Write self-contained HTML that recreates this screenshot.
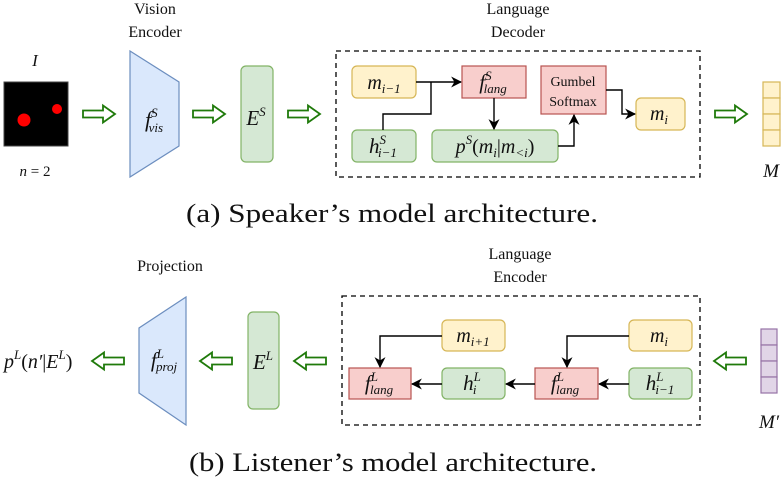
<!DOCTYPE html>
<html><head><meta charset="utf-8"><style>
html,body{margin:0;padding:0;background:#fff;width:784px;height:478px;overflow:hidden}
svg{display:block}
.t{font-family:"Liberation Serif",serif;fill:#111}
.m{font-family:"Liberation Serif",serif;font-style:italic;fill:#111}
</style></head><body>
<svg width="784" height="478" viewBox="0 0 784 478" xmlns="http://www.w3.org/2000/svg">
<defs>
<marker id="ah" viewBox="0 0 10 10" refX="9" refY="5" markerWidth="11" markerHeight="11" orient="auto" markerUnits="userSpaceOnUse">
<path d="M0,0 L10,5 L0,10 L3,5 z" fill="#000"/></marker>
<g id="har"><path d="M0,-3.5 L20,-3.5 L20,-8.5 L32,0 L20,8.5 L20,3.5 L0,3.5 z" fill="#fff" stroke="#1f7a0a" stroke-width="1.8"/></g>
</defs>

<!-- TOP -->
<text class="t" x="155" y="14" font-size="16" text-anchor="middle">Vision</text>
<text class="t" x="155" y="37" font-size="16" text-anchor="middle">Encoder</text>
<text class="m" x="35" y="66" font-size="17" text-anchor="middle">I</text>
<rect x="4" y="82" width="64" height="64" fill="#000" stroke="#444"/>
<circle cx="24" cy="120" r="6.5" fill="#f00"/>
<circle cx="57" cy="109" r="5" fill="#f00"/>
<text class="m" x="35" y="176" font-size="15" text-anchor="middle">n <tspan font-style="normal">= 2</tspan></text>

<use href="#har" x="83" y="114"/>
<path d="M130,51 L179,82 L179,146 L130,177 z" fill="#dae8fc" stroke="#6c8ebf" stroke-width="1.2"/>
<text class="m" x="154" y="127" font-size="22" text-anchor="middle">f<tspan font-size="13" dy="-10">S</tspan><tspan font-size="13" dx="-9" dy="15">vis</tspan></text>
<use href="#har" x="193" y="114"/>
<rect x="241" y="66" width="32" height="96" rx="5" fill="#d5e8d4" stroke="#82b366" stroke-width="1.2"/>
<text class="m" x="256" y="125" font-size="21" text-anchor="middle">E<tspan font-size="13" dy="-9">S</tspan></text>
<use href="#har" x="288" y="114"/>

<text class="t" x="518" y="14" font-size="16" text-anchor="middle">Language</text>
<text class="t" x="518" y="37" font-size="16" text-anchor="middle">Decoder</text>
<rect x="336" y="51" width="364" height="126" fill="none" stroke="#000" stroke-width="1.3" stroke-dasharray="5,4"/>

<rect x="352" y="66" width="64" height="32" rx="5" fill="#fff2cc" stroke="#d6b656" stroke-width="1.2"/>
<text class="m" x="384" y="89" font-size="20" text-anchor="middle">m<tspan font-size="13" dy="4">i−1</tspan></text>
<rect x="462" y="66" width="64" height="32" fill="#f8cecc" stroke="#b85450" stroke-width="1.2"/>
<text class="m" x="493" y="89" font-size="21" text-anchor="middle">f<tspan font-size="13" dy="-9">S</tspan><tspan font-size="13" dx="-8" dy="13">lang</tspan></text>
<rect x="541" y="66" width="65" height="48" fill="#f8cecc" stroke="#b85450" stroke-width="1.2"/>
<text class="t" x="573" y="86" font-size="14" text-anchor="middle">Gumbel</text>
<text class="t" x="573" y="106" font-size="14" text-anchor="middle">Softmax</text>
<rect x="636" y="98" width="49" height="32" rx="5" fill="#fff2cc" stroke="#d6b656" stroke-width="1.2"/>
<text class="m" x="659" y="120" font-size="20" text-anchor="middle">m<tspan font-size="13" dy="4">i</tspan></text>
<rect x="352" y="130" width="64" height="32" rx="5" fill="#d5e8d4" stroke="#82b366" stroke-width="1.2"/>
<text class="m" x="383" y="153" font-size="21" text-anchor="middle">h<tspan font-size="13" dy="-9">S</tspan><tspan font-size="13" dx="-8" dy="13">i−1</tspan></text>
<rect x="432" y="130" width="126" height="32" rx="5" fill="#d5e8d4" stroke="#82b366" stroke-width="1.2"/>
<text class="m" x="495" y="153" font-size="20" text-anchor="middle">p<tspan font-size="13" dy="-9">S</tspan><tspan font-style="normal" dy="9">(</tspan>m<tspan font-size="13" dy="4">i</tspan><tspan font-style="normal" dy="-4">|</tspan>m<tspan font-size="13" dy="4">&lt;i</tspan><tspan font-style="normal" dy="-4">)</tspan></text>

<g fill="none" stroke="#000" stroke-width="1.4">
<path d="M416,82 L461,82" marker-end="url(#ah)"/>
<path d="M383,130 L383,114 L431,114 L431,82"/>
<path d="M494,98 L494,129" marker-end="url(#ah)"/>
<path d="M558,146 L574,146 L574,115" marker-end="url(#ah)"/>
<path d="M606,90 L622,90 L622,114 L635,114" marker-end="url(#ah)"/>
</g>

<use href="#har" x="715" y="114"/>
<g fill="#fff2cc" stroke="#d6b656" stroke-width="1.2">
<rect x="763" y="82" width="17" height="16"/><rect x="763" y="98" width="17" height="16"/>
<rect x="763" y="114" width="17" height="16"/><rect x="763" y="130" width="17" height="16"/>
</g>
<text class="m" x="771" y="177" font-size="19" text-anchor="middle">M</text>

<text class="t" x="392" y="222" font-size="26" text-anchor="middle" textLength="412" lengthAdjust="spacingAndGlyphs">(a) Speaker’s model architecture.</text>

<!-- BOTTOM -->
<text class="t" x="170" y="271" font-size="16" text-anchor="middle">Projection</text>
<text class="t" x="520" y="259" font-size="16" text-anchor="middle">Language</text>
<text class="t" x="520" y="282" font-size="16" text-anchor="middle">Encoder</text>

<text class="m" x="4" y="368" font-size="20">p<tspan font-size="13" dy="-9">L</tspan><tspan font-style="normal" dy="9">(</tspan>n′<tspan font-style="normal">|</tspan>E<tspan font-size="13" dy="-9">L</tspan><tspan font-style="normal" dy="9">)</tspan></text>
<use href="#har" transform="translate(124,361) scale(-1,1)"/>
<path d="M186,297 L186,425 L139,393 L139,328 z" fill="#dae8fc" stroke="#6c8ebf" stroke-width="1.2"/>
<text class="m" x="164" y="367" font-size="21" text-anchor="middle">f<tspan font-size="13" dy="-9">L</tspan><tspan font-size="13" dx="-8" dy="13">proj</tspan></text>
<use href="#har" transform="translate(232,361) scale(-1,1)"/>
<rect x="248" y="312" width="31" height="97" rx="5" fill="#d5e8d4" stroke="#82b366" stroke-width="1.2"/>
<text class="m" x="263" y="369" font-size="21" text-anchor="middle">E<tspan font-size="13" dy="-9">L</tspan></text>
<use href="#har" transform="translate(326,361) scale(-1,1)"/>

<rect x="342" y="296" width="358" height="129" fill="none" stroke="#000" stroke-width="1.3" stroke-dasharray="5,4"/>

<rect x="442" y="320" width="63" height="31" rx="5" fill="#fff2cc" stroke="#d6b656" stroke-width="1.2"/>
<text class="m" x="473" y="342" font-size="20" text-anchor="middle">m<tspan font-size="13" dy="4">i+1</tspan></text>
<rect x="629" y="320" width="63" height="31" rx="5" fill="#fff2cc" stroke="#d6b656" stroke-width="1.2"/>
<text class="m" x="659" y="342" font-size="20" text-anchor="middle">m<tspan font-size="13" dy="4">i</tspan></text>
<rect x="349" y="368" width="62" height="31" fill="#f8cecc" stroke="#b85450" stroke-width="1.2"/>
<text class="m" x="379" y="390" font-size="21" text-anchor="middle">f<tspan font-size="13" dy="-9">L</tspan><tspan font-size="13" dx="-8" dy="13">lang</tspan></text>
<rect x="442" y="368" width="63" height="31" rx="5" fill="#d5e8d4" stroke="#82b366" stroke-width="1.2"/>
<text class="m" x="472" y="390" font-size="21" text-anchor="middle">h<tspan font-size="13" dy="-9">L</tspan><tspan font-size="13" dx="-8" dy="13">i</tspan></text>
<rect x="535" y="368" width="63" height="31" fill="#f8cecc" stroke="#b85450" stroke-width="1.2"/>
<text class="m" x="565" y="390" font-size="21" text-anchor="middle">f<tspan font-size="13" dy="-9">L</tspan><tspan font-size="13" dx="-8" dy="13">lang</tspan></text>
<rect x="629" y="368" width="63" height="31" rx="5" fill="#d5e8d4" stroke="#82b366" stroke-width="1.2"/>
<text class="m" x="660" y="390" font-size="21" text-anchor="middle">h<tspan font-size="13" dy="-9">L</tspan><tspan font-size="13" dx="-8" dy="13">i−1</tspan></text>

<g fill="none" stroke="#000" stroke-width="1.4">
<path d="M442,336 L380,336 L380,367" marker-end="url(#ah)"/>
<path d="M629,336 L567,336 L567,367" marker-end="url(#ah)"/>
<path d="M629,384 L599,384" marker-end="url(#ah)"/>
<path d="M535,384 L506,384" marker-end="url(#ah)"/>
<path d="M442,384 L412,384" marker-end="url(#ah)"/>
</g>

<use href="#har" transform="translate(746,361) scale(-1,1)"/>
<g fill="#e1d5e7" stroke="#9673a6" stroke-width="1.2">
<rect x="761" y="329" width="16" height="16"/><rect x="761" y="345" width="16" height="16"/>
<rect x="761" y="361" width="16" height="16"/><rect x="761" y="377" width="16" height="16"/>
</g>
<text class="m" x="769" y="428" font-size="19" text-anchor="middle">M′</text>

<text class="t" x="393" y="471" font-size="26" text-anchor="middle" textLength="408" lengthAdjust="spacingAndGlyphs">(b) Listener’s model architecture.</text>
</svg>
</body></html>
